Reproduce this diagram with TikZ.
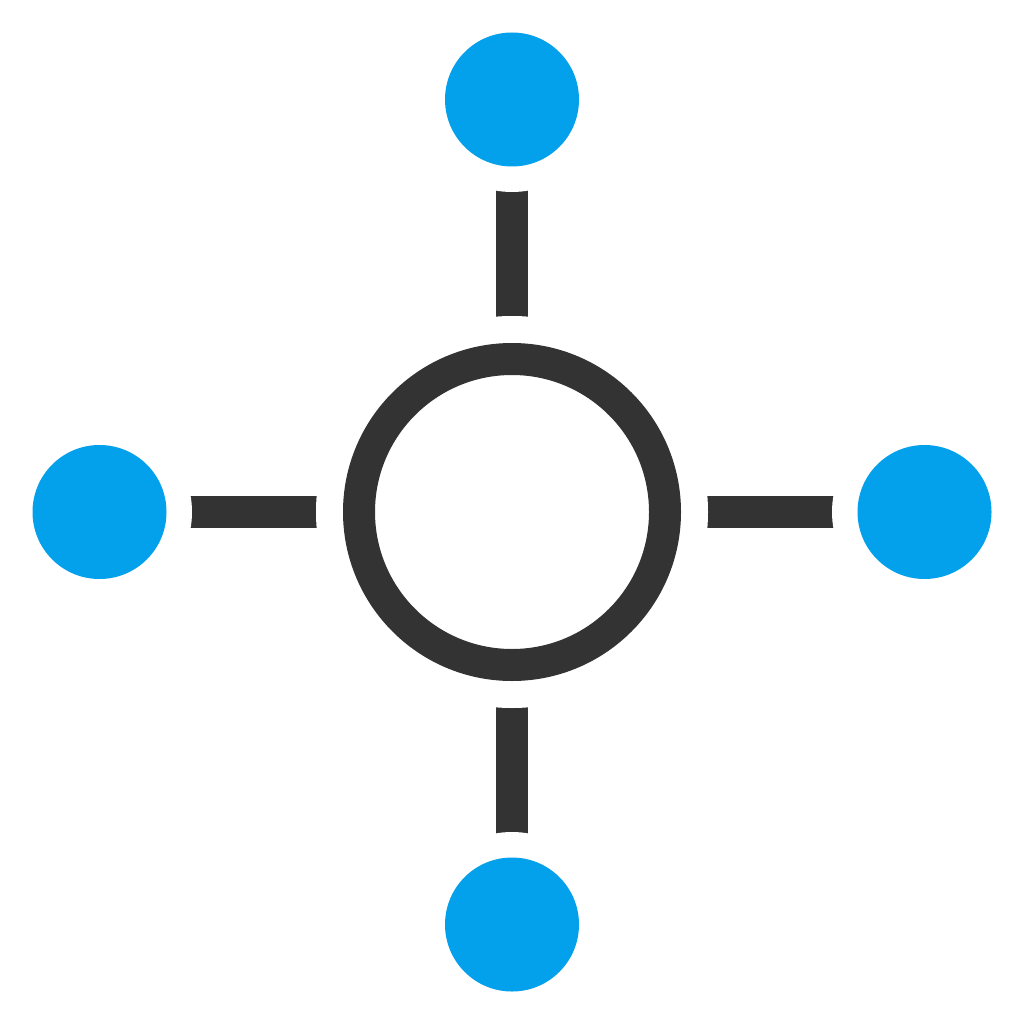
\documentclass[tikz,border=0pt]{standalone}
\usetikzlibrary{calc}
\definecolor{iconblue}{RGB}{3,160,235}
\definecolor{icongray}{RGB}{51,51,51}
\begin{document}
\begin{tikzpicture}[x=1pt,y=-1pt,
  leaf/.style={circle,fill=iconblue,inner sep=0pt,outer sep=0pt,minimum size=134pt},
  hub/.style={circle,draw=icongray,line width=32pt,inner sep=0pt,outer sep=0pt,minimum size=306pt},
  bar/.style={icongray,line width=32pt}]
\useasboundingbox (0,0) rectangle (1024,1024);
\fill[white] (0,0) rectangle (1024,1024);
% node positions
\coordinate (pc) at (512,512);
\coordinate (pt) at (512,99.5);
\coordinate (pb) at (512,924.5);
\coordinate (pl) at (99.5,512);
\coordinate (pr) at (924.5,512);
% bars (connectors), trimmed by white gaps below
\foreach \p in {pt,pb,pl,pr}{\draw[bar] (pc) -- (\p);}
% gaps around nodes
\fill[white] (pc) circle (196);
\foreach \p in {pt,pb,pl,pr}{\fill[white] (\p) circle (92.5);}
% nodes
\node[hub] (c) at (pc) {};
\node[leaf] (t) at (pt) {};
\node[leaf] (b) at (pb) {};
\node[leaf] (l) at (pl) {};
\node[leaf] (r) at (pr) {};
\end{tikzpicture}
\end{document}
